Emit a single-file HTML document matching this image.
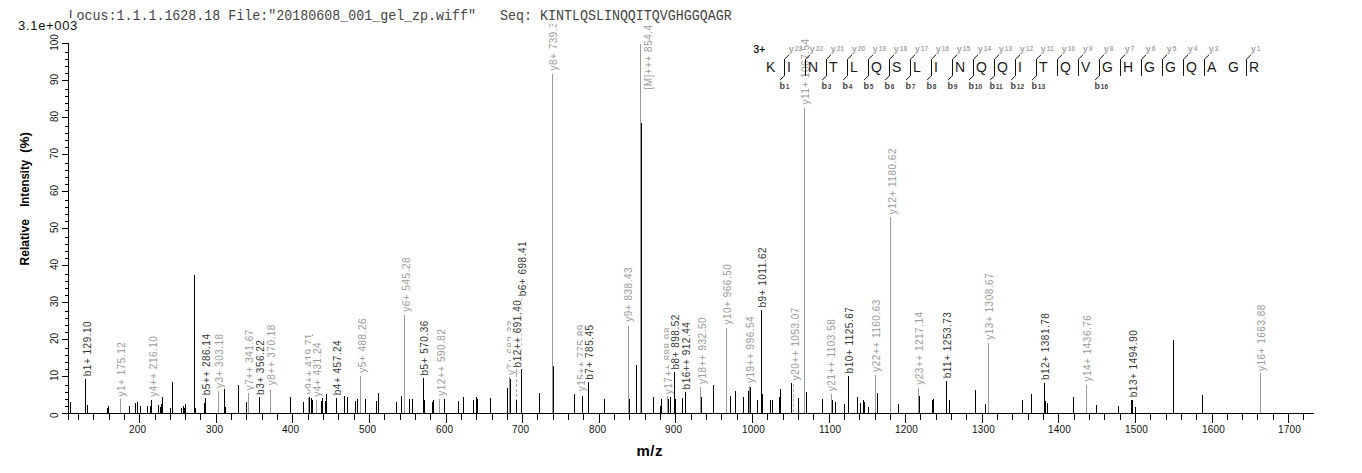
<!DOCTYPE html><html><head><meta charset="utf-8"><style>
html,body{margin:0;padding:0;background:#fff;width:1362px;height:473px;overflow:hidden}
svg{display:block;font-family:"Liberation Sans",sans-serif}
.lb{font-size:10px;letter-spacing:0.5px}
</style></head><body>
<svg width="1362" height="473" viewBox="0 0 1362 473" shape-rendering="crispEdges">
<text transform="translate(0,19.8) scale(1,1.08)" x="68.5" y="0" font-family="Liberation Mono" font-size="13.333" fill="#444" xml:space="preserve">Locus:1.1.1.1628.18 File:&quot;20180608_001_gel_zp.wiff&quot;   Seq: KINTLQSLINQQITQVGHGGQAGR</text>
<defs><clipPath id="pc"><rect x="0" y="24" width="1362" height="449"/></clipPath></defs>
<g clip-path="url(#pc)">
<rect x="70" y="402" width="1" height="11" fill="#000"/>
<rect x="85" y="379" width="1" height="34" fill="#000"/>
<rect x="87" y="405" width="1" height="8" fill="#000"/>
<rect x="107" y="408" width="1" height="5" fill="#000"/>
<rect x="108" y="406" width="1" height="7" fill="#000"/>
<rect x="120" y="399" width="1" height="14" fill="#999999"/>
<rect x="129" y="406" width="1" height="7" fill="#000"/>
<rect x="135" y="403" width="1" height="10" fill="#000"/>
<rect x="137" y="402" width="1" height="11" fill="#000"/>
<rect x="140" y="406" width="1" height="7" fill="#000"/>
<rect x="147" y="406" width="1" height="7" fill="#000"/>
<rect x="150" y="406" width="1" height="7" fill="#000"/>
<rect x="151" y="400" width="1" height="13" fill="#000"/>
<rect x="158" y="405" width="1" height="8" fill="#000"/>
<rect x="160" y="407" width="1" height="6" fill="#000"/>
<rect x="161" y="404" width="1" height="9" fill="#000"/>
<rect x="162" y="397" width="1" height="16" fill="#000"/>
<rect x="170" y="408" width="1" height="5" fill="#000"/>
<rect x="172" y="382" width="1" height="31" fill="#000"/>
<rect x="181" y="408" width="1" height="5" fill="#000"/>
<rect x="183" y="406" width="1" height="7" fill="#000"/>
<rect x="184" y="408" width="1" height="5" fill="#000"/>
<rect x="185" y="404" width="1" height="9" fill="#000"/>
<rect x="194" y="275" width="1" height="138" fill="#000"/>
<rect x="195" y="408" width="1" height="5" fill="#000"/>
<rect x="204" y="403" width="1" height="10" fill="#000"/>
<rect x="205" y="398" width="1" height="15" fill="#000"/>
<rect x="218" y="391" width="1" height="22" fill="#999999"/>
<rect x="224" y="389" width="1" height="24" fill="#000"/>
<rect x="225" y="407" width="1" height="6" fill="#000"/>
<rect x="238" y="385" width="1" height="28" fill="#000"/>
<rect x="246" y="402" width="1" height="11" fill="#000"/>
<rect x="248" y="393" width="1" height="20" fill="#999999"/>
<rect x="259" y="397" width="1" height="16" fill="#000"/>
<rect x="270" y="390" width="1" height="23" fill="#999999"/>
<rect x="290" y="397" width="1" height="16" fill="#000"/>
<rect x="303" y="402" width="1" height="11" fill="#000"/>
<rect x="308" y="398" width="1" height="15" fill="#999999"/>
<rect x="309" y="397" width="1" height="16" fill="#000"/>
<rect x="311" y="398" width="1" height="15" fill="#000"/>
<rect x="312" y="400" width="1" height="13" fill="#000"/>
<rect x="316" y="400" width="1" height="13" fill="#999999"/>
<rect x="321" y="401" width="1" height="12" fill="#000"/>
<rect x="322" y="398" width="1" height="15" fill="#000"/>
<rect x="325" y="401" width="1" height="12" fill="#000"/>
<rect x="326" y="394" width="1" height="19" fill="#000"/>
<rect x="336" y="398" width="1" height="15" fill="#000"/>
<rect x="344" y="396" width="1" height="17" fill="#000"/>
<rect x="347" y="397" width="1" height="16" fill="#000"/>
<rect x="355" y="401" width="1" height="12" fill="#000"/>
<rect x="357" y="399" width="1" height="14" fill="#000"/>
<rect x="360" y="376" width="1" height="37" fill="#999999"/>
<rect x="365" y="399" width="1" height="14" fill="#000"/>
<rect x="376" y="401" width="1" height="12" fill="#000"/>
<rect x="378" y="393" width="1" height="20" fill="#000"/>
<rect x="396" y="402" width="1" height="11" fill="#000"/>
<rect x="401" y="396" width="1" height="17" fill="#000"/>
<rect x="404" y="315" width="1" height="98" fill="#999999"/>
<rect x="409" y="399" width="1" height="14" fill="#000"/>
<rect x="412" y="399" width="1" height="14" fill="#000"/>
<rect x="423" y="378" width="1" height="35" fill="#000"/>
<rect x="424" y="400" width="1" height="13" fill="#000"/>
<rect x="432" y="402" width="1" height="11" fill="#000"/>
<rect x="433" y="400" width="1" height="13" fill="#000"/>
<rect x="439" y="399" width="1" height="14" fill="#999999"/>
<rect x="444" y="399" width="1" height="14" fill="#000"/>
<rect x="458" y="401" width="1" height="12" fill="#000"/>
<rect x="463" y="397" width="1" height="16" fill="#000"/>
<rect x="473" y="400" width="1" height="13" fill="#000"/>
<rect x="476" y="397" width="1" height="16" fill="#000"/>
<rect x="477" y="399" width="1" height="14" fill="#000"/>
<rect x="490" y="398" width="1" height="15" fill="#000"/>
<rect x="507" y="388" width="1" height="25" fill="#000"/>
<rect x="509" y="377" width="1" height="36" fill="#999999"/>
<rect x="510" y="379" width="1" height="34" fill="#000"/>
<rect x="516" y="400" width="1" height="13" fill="#000"/>
<rect x="521" y="369" width="1" height="44" fill="#000"/>
<rect x="539" y="393" width="1" height="20" fill="#000"/>
<rect x="552" y="74" width="1" height="339" fill="#999999"/>
<rect x="553" y="366" width="1" height="47" fill="#000"/>
<rect x="574" y="394" width="1" height="19" fill="#000"/>
<rect x="582" y="396" width="1" height="17" fill="#000"/>
<rect x="588" y="382" width="1" height="31" fill="#000"/>
<rect x="604" y="399" width="1" height="14" fill="#000"/>
<rect x="628" y="326" width="1" height="87" fill="#999999"/>
<rect x="629" y="399" width="1" height="14" fill="#000"/>
<rect x="636" y="365" width="1" height="48" fill="#000"/>
<rect x="640" y="44" width="1" height="369" fill="#999999"/>
<rect x="641" y="123" width="1" height="290" fill="#000"/>
<rect x="653" y="397" width="1" height="16" fill="#000"/>
<rect x="660" y="406" width="1" height="7" fill="#000"/>
<rect x="661" y="399" width="1" height="14" fill="#000"/>
<rect x="667" y="396" width="1" height="17" fill="#999999"/>
<rect x="668" y="399" width="1" height="14" fill="#000"/>
<rect x="670" y="397" width="1" height="16" fill="#000"/>
<rect x="674" y="372" width="1" height="41" fill="#000"/>
<rect x="675" y="399" width="1" height="14" fill="#000"/>
<rect x="682" y="398" width="1" height="15" fill="#000"/>
<rect x="685" y="392" width="1" height="21" fill="#000"/>
<rect x="700" y="387" width="1" height="26" fill="#999999"/>
<rect x="701" y="397" width="1" height="16" fill="#000"/>
<rect x="713" y="385" width="1" height="28" fill="#000"/>
<rect x="726" y="328" width="1" height="85" fill="#999999"/>
<rect x="730" y="396" width="1" height="17" fill="#000"/>
<rect x="735" y="391" width="1" height="22" fill="#000"/>
<rect x="743" y="397" width="1" height="16" fill="#000"/>
<rect x="748" y="391" width="1" height="22" fill="#000"/>
<rect x="749" y="386" width="1" height="27" fill="#999999"/>
<rect x="750" y="387" width="1" height="26" fill="#000"/>
<rect x="757" y="400" width="1" height="13" fill="#000"/>
<rect x="761" y="310" width="1" height="103" fill="#000"/>
<rect x="762" y="394" width="1" height="19" fill="#000"/>
<rect x="770" y="400" width="1" height="13" fill="#000"/>
<rect x="772" y="400" width="1" height="13" fill="#000"/>
<rect x="779" y="397" width="1" height="16" fill="#000"/>
<rect x="780" y="389" width="1" height="24" fill="#000"/>
<rect x="791" y="383" width="1" height="30" fill="#000"/>
<rect x="798" y="398" width="1" height="15" fill="#000"/>
<rect x="804" y="108" width="1" height="305" fill="#999999"/>
<rect x="806" y="392" width="1" height="21" fill="#000"/>
<rect x="822" y="399" width="1" height="14" fill="#000"/>
<rect x="831" y="394" width="1" height="19" fill="#999999"/>
<rect x="832" y="400" width="1" height="13" fill="#000"/>
<rect x="835" y="402" width="1" height="11" fill="#000"/>
<rect x="844" y="404" width="1" height="9" fill="#000"/>
<rect x="848" y="376" width="1" height="37" fill="#000"/>
<rect x="857" y="397" width="1" height="16" fill="#000"/>
<rect x="860" y="403" width="1" height="10" fill="#000"/>
<rect x="863" y="400" width="1" height="13" fill="#000"/>
<rect x="864" y="402" width="1" height="11" fill="#000"/>
<rect x="868" y="407" width="1" height="6" fill="#000"/>
<rect x="875" y="375" width="1" height="38" fill="#999999"/>
<rect x="877" y="393" width="1" height="20" fill="#000"/>
<rect x="890" y="217" width="1" height="196" fill="#999999"/>
<rect x="898" y="404" width="1" height="9" fill="#000"/>
<rect x="918" y="388" width="1" height="25" fill="#999999"/>
<rect x="919" y="396" width="1" height="17" fill="#000"/>
<rect x="932" y="400" width="1" height="13" fill="#000"/>
<rect x="933" y="399" width="1" height="14" fill="#000"/>
<rect x="946" y="381" width="1" height="32" fill="#000"/>
<rect x="949" y="400" width="1" height="13" fill="#000"/>
<rect x="975" y="390" width="1" height="23" fill="#000"/>
<rect x="985" y="404" width="1" height="9" fill="#000"/>
<rect x="988" y="343" width="1" height="70" fill="#999999"/>
<rect x="1022" y="400" width="1" height="13" fill="#000"/>
<rect x="1031" y="394" width="1" height="19" fill="#000"/>
<rect x="1044" y="383" width="1" height="30" fill="#000"/>
<rect x="1045" y="401" width="1" height="12" fill="#000"/>
<rect x="1047" y="403" width="1" height="10" fill="#000"/>
<rect x="1073" y="397" width="1" height="16" fill="#000"/>
<rect x="1086" y="385" width="1" height="28" fill="#999999"/>
<rect x="1096" y="405" width="1" height="8" fill="#000"/>
<rect x="1118" y="406" width="1" height="7" fill="#000"/>
<rect x="1131" y="400" width="1" height="13" fill="#000"/>
<rect x="1132" y="400" width="1" height="13" fill="#000"/>
<rect x="1135" y="407" width="1" height="6" fill="#000"/>
<rect x="1173" y="340" width="1" height="73" fill="#000"/>
<rect x="1202" y="395" width="1" height="18" fill="#000"/>
<rect x="1260" y="373" width="1" height="40" fill="#999999"/>
<g transform="translate(313.3,394.2) rotate(-90)">
<rect x="-1" y="-10" width="68.1" height="11.3" fill="#fff"/>
<text class="lb" x="0" y="0" fill="#9a9a9a" shape-rendering="auto">y9++ 419.71</text></g>
<g transform="translate(124.7,396.5) rotate(-90)">
<rect x="-1" y="-10" width="62.0" height="11.3" fill="#fff"/>
<text class="lb" x="0" y="0" fill="#9a9a9a" shape-rendering="auto">y1+ 175.12</text></g>
<g transform="translate(90.5,376.2) rotate(-90)">
<rect x="-1" y="-10" width="62.0" height="11.3" fill="#fff"/>
<text class="lb" x="0" y="0" fill="#363636" shape-rendering="auto">b1+ 129.10</text></g>
<g transform="translate(157.0,396.7) rotate(-90)">
<rect x="-1" y="-10" width="68.1" height="11.3" fill="#fff"/>
<text class="lb" x="0" y="0" fill="#9a9a9a" shape-rendering="auto">y4++ 216.10</text></g>
<g transform="translate(209.6,395.2) rotate(-90)">
<rect x="-1" y="-10" width="68.1" height="11.3" fill="#fff"/>
<text class="lb" x="0" y="0" fill="#363636" shape-rendering="auto">b5++ 286.14</text></g>
<g transform="translate(222.8,388.1) rotate(-90)">
<rect x="-1" y="-10" width="62.0" height="11.3" fill="#fff"/>
<text class="lb" x="0" y="0" fill="#9a9a9a" shape-rendering="auto">y3+ 303.18</text></g>
<g transform="translate(252.5,390.3) rotate(-90)">
<rect x="-1" y="-10" width="68.1" height="11.3" fill="#fff"/>
<text class="lb" x="0" y="0" fill="#9a9a9a" shape-rendering="auto">y7++ 341.67</text></g>
<g transform="translate(263.6,394.9) rotate(-90)">
<rect x="-1" y="-10" width="62.0" height="11.3" fill="#fff"/>
<text class="lb" x="0" y="0" fill="#363636" shape-rendering="auto">b3+ 356.22</text></g>
<g transform="translate(274.6,385.2) rotate(-90)">
<rect x="-1" y="-10" width="68.1" height="11.3" fill="#fff"/>
<text class="lb" x="0" y="0" fill="#9a9a9a" shape-rendering="auto">y8++ 370.18</text></g>
<g transform="translate(320.6,396.7) rotate(-90)">
<rect x="-1" y="-10" width="62.0" height="11.3" fill="#fff"/>
<text class="lb" x="0" y="0" fill="#9a9a9a" shape-rendering="auto">y4+ 431.24</text></g>
<g transform="translate(341.2,395.2) rotate(-90)">
<rect x="-1" y="-10" width="62.0" height="11.3" fill="#fff"/>
<text class="lb" x="0" y="0" fill="#363636" shape-rendering="auto">b4+ 457.24</text></g>
<g transform="translate(366.1,372.7) rotate(-90)">
<rect x="-1" y="-10" width="62.0" height="11.3" fill="#fff"/>
<text class="lb" x="0" y="0" fill="#9a9a9a" shape-rendering="auto">y5+ 488.26</text></g>
<g transform="translate(410.0,311.7) rotate(-90)">
<rect x="-1" y="-10" width="62.0" height="11.3" fill="#fff"/>
<text class="lb" x="0" y="0" fill="#9a9a9a" shape-rendering="auto">y6+ 545.28</text></g>
<g transform="translate(428.3,375.5) rotate(-90)">
<rect x="-1" y="-10" width="62.0" height="11.3" fill="#fff"/>
<text class="lb" x="0" y="0" fill="#363636" shape-rendering="auto">b5+ 570.36</text></g>
<g transform="translate(444.8,395.7) rotate(-90)">
<rect x="-1" y="-10" width="74.2" height="11.3" fill="#fff"/>
<text class="lb" x="0" y="0" fill="#9a9a9a" shape-rendering="auto">y12++ 590.82</text></g>
<g transform="translate(515.1,375.0) rotate(-90)">
<rect x="-1" y="-10" width="62.0" height="11.3" fill="#fff"/>
<text class="lb" x="0" y="0" fill="#9a9a9a" shape-rendering="auto">y7+ 682.33</text></g>
<g transform="translate(521.2,367.4) rotate(-90)">
<rect x="-1" y="-10" width="74.2" height="11.3" fill="#fff"/>
<text class="lb" x="0" y="0" fill="#363636" shape-rendering="auto">b12++ 691.40</text></g>
<g transform="translate(526.4,296.3) rotate(-90)">
<rect x="-1" y="-10" width="62.0" height="11.3" fill="#fff"/>
<text class="lb" x="0" y="0" fill="#363636" shape-rendering="auto">b6+ 698.41</text></g>
<g transform="translate(556.9,70.5) rotate(-90)">
<rect x="-1" y="-10" width="62.0" height="11.3" fill="#fff"/>
<text class="lb" x="0" y="0" fill="#9a9a9a" shape-rendering="auto">y8+ 739.36</text></g>
<g transform="translate(585.1,391.3) rotate(-90)">
<rect x="-1" y="-10" width="74.2" height="11.3" fill="#fff"/>
<text class="lb" x="0" y="0" fill="#9a9a9a" shape-rendering="auto">y15++ 775.89</text></g>
<g transform="translate(593.2,379.7) rotate(-90)">
<rect x="-1" y="-10" width="62.0" height="11.3" fill="#fff"/>
<text class="lb" x="0" y="0" fill="#363636" shape-rendering="auto">b7+ 785.45</text></g>
<g transform="translate(632.0,321.7) rotate(-90)">
<rect x="-1" y="-10" width="62.0" height="11.3" fill="#fff"/>
<text class="lb" x="0" y="0" fill="#9a9a9a" shape-rendering="auto">y9+ 838.43</text></g>
<g transform="translate(652.2,89.6) rotate(-90)">
<rect x="-1" y="-10" width="74.2" height="11.3" fill="#fff"/>
<text class="lb" x="0" y="0" fill="#9a9a9a" shape-rendering="auto">&#91;M]+++ 854.4</text></g>
<g transform="translate(671.5,394.2) rotate(-90)">
<rect x="-1" y="-10" width="74.2" height="11.3" fill="#fff"/>
<text class="lb" x="0" y="0" fill="#9a9a9a" shape-rendering="auto">y17++ 888.98</text></g>
<g transform="translate(679.0,369.5) rotate(-90)">
<rect x="-1" y="-10" width="62.0" height="11.3" fill="#fff"/>
<text class="lb" x="0" y="0" fill="#363636" shape-rendering="auto">b8+ 898.52</text></g>
<g transform="translate(689.7,389.4) rotate(-90)">
<rect x="-1" y="-10" width="74.2" height="11.3" fill="#fff"/>
<text class="lb" x="0" y="0" fill="#363636" shape-rendering="auto">b16++ 912.44</text></g>
<g transform="translate(705.6,384.1) rotate(-90)">
<rect x="-1" y="-10" width="74.2" height="11.3" fill="#fff"/>
<text class="lb" x="0" y="0" fill="#9a9a9a" shape-rendering="auto">y18++ 932.50</text></g>
<g transform="translate(730.6,324.5) rotate(-90)">
<rect x="-1" y="-10" width="68.1" height="11.3" fill="#fff"/>
<text class="lb" x="0" y="0" fill="#9a9a9a" shape-rendering="auto">y10+ 966.50</text></g>
<g transform="translate(753.9,383.0) rotate(-90)">
<rect x="-1" y="-10" width="74.2" height="11.3" fill="#fff"/>
<text class="lb" x="0" y="0" fill="#9a9a9a" shape-rendering="auto">y19++ 996.54</text></g>
<g transform="translate(765.6,307.5) rotate(-90)">
<rect x="-1" y="-10" width="68.1" height="11.3" fill="#fff"/>
<text class="lb" x="0" y="0" fill="#363636" shape-rendering="auto">b9+ 1011.62</text></g>
<g transform="translate(799.0,380.3) rotate(-90)">
<rect x="-1" y="-10" width="80.3" height="11.3" fill="#fff"/>
<text class="lb" x="0" y="0" fill="#9a9a9a" shape-rendering="auto">y20++ 1053.07</text></g>
<g transform="translate(809.0,104.5) rotate(-90)">
<rect x="-1" y="-10" width="74.2" height="11.3" fill="#fff"/>
<text class="lb" x="0" y="0" fill="#9a9a9a" shape-rendering="auto">y11+ 1067.54</text></g>
<g transform="translate(835.4,391.2) rotate(-90)">
<rect x="-1" y="-10" width="80.3" height="11.3" fill="#fff"/>
<text class="lb" x="0" y="0" fill="#9a9a9a" shape-rendering="auto">y21++ 1103.58</text></g>
<g transform="translate(852.9,373.4) rotate(-90)">
<rect x="-1" y="-10" width="74.2" height="11.3" fill="#fff"/>
<text class="lb" x="0" y="0" fill="#363636" shape-rendering="auto">b10+ 1125.67</text></g>
<g transform="translate(880.4,371.7) rotate(-90)">
<rect x="-1" y="-10" width="80.3" height="11.3" fill="#fff"/>
<text class="lb" x="0" y="0" fill="#9a9a9a" shape-rendering="auto">y22++ 1160.63</text></g>
<g transform="translate(896.0,214.2) rotate(-90)">
<rect x="-1" y="-10" width="74.2" height="11.3" fill="#fff"/>
<text class="lb" x="0" y="0" fill="#9a9a9a" shape-rendering="auto">y12+ 1180.62</text></g>
<g transform="translate(922.9,384.7) rotate(-90)">
<rect x="-1" y="-10" width="80.3" height="11.3" fill="#fff"/>
<text class="lb" x="0" y="0" fill="#9a9a9a" shape-rendering="auto">y23++ 1217.14</text></g>
<g transform="translate(951.3,378.3) rotate(-90)">
<rect x="-1" y="-10" width="74.2" height="11.3" fill="#fff"/>
<text class="lb" x="0" y="0" fill="#363636" shape-rendering="auto">b11+ 1253.73</text></g>
<g transform="translate(993.4,339.7) rotate(-90)">
<rect x="-1" y="-10" width="74.2" height="11.3" fill="#fff"/>
<text class="lb" x="0" y="0" fill="#9a9a9a" shape-rendering="auto">y13+ 1308.67</text></g>
<g transform="translate(1048.7,380.1) rotate(-90)">
<rect x="-1" y="-10" width="74.2" height="11.3" fill="#fff"/>
<text class="lb" x="0" y="0" fill="#363636" shape-rendering="auto">b12+ 1381.78</text></g>
<g transform="translate(1091.3,381.5) rotate(-90)">
<rect x="-1" y="-10" width="74.2" height="11.3" fill="#fff"/>
<text class="lb" x="0" y="0" fill="#9a9a9a" shape-rendering="auto">y14+ 1436.76</text></g>
<g transform="translate(1136.6,397.2) rotate(-90)">
<rect x="-1" y="-10" width="74.2" height="11.3" fill="#fff"/>
<text class="lb" x="0" y="0" fill="#363636" shape-rendering="auto">b13+ 1494.90</text></g>
<g transform="translate(1265.0,371.0) rotate(-90)">
<rect x="-1" y="-10" width="74.2" height="11.3" fill="#fff"/>
<text class="lb" x="0" y="0" fill="#9a9a9a" shape-rendering="auto">y16+ 1663.88</text></g>
<line x1="516.5" y1="369" x2="516.5" y2="400" stroke="#aaaaaa" stroke-width="1" stroke-dasharray="3,2"/>
<line x1="793.5" y1="384" x2="793.5" y2="413" stroke="#b4b4b4" stroke-width="1" stroke-dasharray="3,2"/>
<line x1="521.5" y1="298" x2="521.5" y2="368" stroke="#cfcfcf" stroke-width="1" stroke-dasharray="3,2"/>
</g>
<rect x="62" y="413" width="1252" height="1" fill="#000"/>
<rect x="68" y="43" width="1" height="377" fill="#000"/>
<rect x="62" y="413" width="6" height="1" fill="#000"/>
<rect x="65" y="406" width="3" height="1" fill="#000"/>
<rect x="65" y="399" width="3" height="1" fill="#000"/>
<rect x="65" y="392" width="3" height="1" fill="#000"/>
<rect x="65" y="385" width="3" height="1" fill="#000"/>
<g transform="translate(58.1,415.3) rotate(-90)"><text x="0" y="0" font-size="10" text-anchor="middle" fill="#111">0</text></g>
<rect x="62" y="376" width="6" height="1" fill="#000"/>
<rect x="65" y="369" width="3" height="1" fill="#000"/>
<rect x="65" y="362" width="3" height="1" fill="#000"/>
<rect x="65" y="355" width="3" height="1" fill="#000"/>
<rect x="65" y="348" width="3" height="1" fill="#000"/>
<g transform="translate(58.1,375.5) rotate(-90)"><text x="0" y="0" font-size="10" text-anchor="middle" fill="#111">10</text></g>
<rect x="62" y="339" width="6" height="1" fill="#000"/>
<rect x="65" y="332" width="3" height="1" fill="#000"/>
<rect x="65" y="325" width="3" height="1" fill="#000"/>
<rect x="65" y="318" width="3" height="1" fill="#000"/>
<rect x="65" y="311" width="3" height="1" fill="#000"/>
<g transform="translate(58.1,338.5) rotate(-90)"><text x="0" y="0" font-size="10" text-anchor="middle" fill="#111">20</text></g>
<rect x="62" y="302" width="6" height="1" fill="#000"/>
<rect x="65" y="295" width="3" height="1" fill="#000"/>
<rect x="65" y="288" width="3" height="1" fill="#000"/>
<rect x="65" y="281" width="3" height="1" fill="#000"/>
<rect x="65" y="274" width="3" height="1" fill="#000"/>
<g transform="translate(58.1,301.5) rotate(-90)"><text x="0" y="0" font-size="10" text-anchor="middle" fill="#111">30</text></g>
<rect x="62" y="265" width="6" height="1" fill="#000"/>
<rect x="65" y="258" width="3" height="1" fill="#000"/>
<rect x="65" y="251" width="3" height="1" fill="#000"/>
<rect x="65" y="244" width="3" height="1" fill="#000"/>
<rect x="65" y="237" width="3" height="1" fill="#000"/>
<g transform="translate(58.1,264.5) rotate(-90)"><text x="0" y="0" font-size="10" text-anchor="middle" fill="#111">40</text></g>
<rect x="62" y="228" width="6" height="1" fill="#000"/>
<rect x="65" y="221" width="3" height="1" fill="#000"/>
<rect x="65" y="214" width="3" height="1" fill="#000"/>
<rect x="65" y="207" width="3" height="1" fill="#000"/>
<rect x="65" y="200" width="3" height="1" fill="#000"/>
<g transform="translate(58.1,227.5) rotate(-90)"><text x="0" y="0" font-size="10" text-anchor="middle" fill="#111">50</text></g>
<rect x="62" y="191" width="6" height="1" fill="#000"/>
<rect x="65" y="184" width="3" height="1" fill="#000"/>
<rect x="65" y="177" width="3" height="1" fill="#000"/>
<rect x="65" y="170" width="3" height="1" fill="#000"/>
<rect x="65" y="163" width="3" height="1" fill="#000"/>
<g transform="translate(58.1,190.5) rotate(-90)"><text x="0" y="0" font-size="10" text-anchor="middle" fill="#111">60</text></g>
<rect x="62" y="154" width="6" height="1" fill="#000"/>
<rect x="65" y="147" width="3" height="1" fill="#000"/>
<rect x="65" y="140" width="3" height="1" fill="#000"/>
<rect x="65" y="133" width="3" height="1" fill="#000"/>
<rect x="65" y="126" width="3" height="1" fill="#000"/>
<g transform="translate(58.1,153.5) rotate(-90)"><text x="0" y="0" font-size="10" text-anchor="middle" fill="#111">70</text></g>
<rect x="62" y="117" width="6" height="1" fill="#000"/>
<rect x="65" y="110" width="3" height="1" fill="#000"/>
<rect x="65" y="103" width="3" height="1" fill="#000"/>
<rect x="65" y="96" width="3" height="1" fill="#000"/>
<rect x="65" y="89" width="3" height="1" fill="#000"/>
<g transform="translate(58.1,116.5) rotate(-90)"><text x="0" y="0" font-size="10" text-anchor="middle" fill="#111">80</text></g>
<rect x="62" y="80" width="6" height="1" fill="#000"/>
<rect x="65" y="73" width="3" height="1" fill="#000"/>
<rect x="65" y="66" width="3" height="1" fill="#000"/>
<rect x="65" y="59" width="3" height="1" fill="#000"/>
<rect x="65" y="52" width="3" height="1" fill="#000"/>
<g transform="translate(58.1,79.5) rotate(-90)"><text x="0" y="0" font-size="10" text-anchor="middle" fill="#111">90</text></g>
<rect x="62" y="43" width="6" height="1" fill="#000"/>
<g transform="translate(58.1,42.5) rotate(-90)"><text x="0" y="0" font-size="10" text-anchor="middle" fill="#111">100</text></g>
<rect x="78" y="414" width="1" height="6" fill="#000"/>
<rect x="93" y="414" width="1" height="6" fill="#000"/>
<rect x="109" y="414" width="1" height="6" fill="#000"/>
<rect x="124" y="414" width="1" height="6" fill="#000"/>
<rect x="139" y="414" width="1" height="9" fill="#000"/>
<text x="129.0" y="433" font-size="10" fill="#111" letter-spacing="0.15">200</text>
<rect x="155" y="414" width="1" height="6" fill="#000"/>
<rect x="170" y="414" width="1" height="6" fill="#000"/>
<rect x="185" y="414" width="1" height="6" fill="#000"/>
<rect x="200" y="414" width="1" height="6" fill="#000"/>
<rect x="216" y="414" width="1" height="9" fill="#000"/>
<text x="206.0" y="433" font-size="10" fill="#111" letter-spacing="0.15">300</text>
<rect x="231" y="414" width="1" height="6" fill="#000"/>
<rect x="246" y="414" width="1" height="6" fill="#000"/>
<rect x="262" y="414" width="1" height="6" fill="#000"/>
<rect x="277" y="414" width="1" height="6" fill="#000"/>
<rect x="292" y="414" width="1" height="9" fill="#000"/>
<text x="282.0" y="433" font-size="10" fill="#111" letter-spacing="0.15">400</text>
<rect x="308" y="414" width="1" height="6" fill="#000"/>
<rect x="323" y="414" width="1" height="6" fill="#000"/>
<rect x="338" y="414" width="1" height="6" fill="#000"/>
<rect x="354" y="414" width="1" height="6" fill="#000"/>
<rect x="369" y="414" width="1" height="9" fill="#000"/>
<text x="359.0" y="433" font-size="10" fill="#111" letter-spacing="0.15">500</text>
<rect x="384" y="414" width="1" height="6" fill="#000"/>
<rect x="400" y="414" width="1" height="6" fill="#000"/>
<rect x="415" y="414" width="1" height="6" fill="#000"/>
<rect x="430" y="414" width="1" height="6" fill="#000"/>
<rect x="446" y="414" width="1" height="9" fill="#000"/>
<text x="436.0" y="433" font-size="10" fill="#111" letter-spacing="0.15">600</text>
<rect x="461" y="414" width="1" height="6" fill="#000"/>
<rect x="476" y="414" width="1" height="6" fill="#000"/>
<rect x="492" y="414" width="1" height="6" fill="#000"/>
<rect x="507" y="414" width="1" height="6" fill="#000"/>
<rect x="522" y="414" width="1" height="9" fill="#000"/>
<text x="512.0" y="433" font-size="10" fill="#111" letter-spacing="0.15">700</text>
<rect x="537" y="414" width="1" height="6" fill="#000"/>
<rect x="553" y="414" width="1" height="6" fill="#000"/>
<rect x="568" y="414" width="1" height="6" fill="#000"/>
<rect x="583" y="414" width="1" height="6" fill="#000"/>
<rect x="599" y="414" width="1" height="9" fill="#000"/>
<text x="589.0" y="433" font-size="10" fill="#111" letter-spacing="0.15">800</text>
<rect x="614" y="414" width="1" height="6" fill="#000"/>
<rect x="629" y="414" width="1" height="6" fill="#000"/>
<rect x="645" y="414" width="1" height="6" fill="#000"/>
<rect x="660" y="414" width="1" height="6" fill="#000"/>
<rect x="675" y="414" width="1" height="9" fill="#000"/>
<text x="665.0" y="433" font-size="10" fill="#111" letter-spacing="0.15">900</text>
<rect x="691" y="414" width="1" height="6" fill="#000"/>
<rect x="706" y="414" width="1" height="6" fill="#000"/>
<rect x="721" y="414" width="1" height="6" fill="#000"/>
<rect x="737" y="414" width="1" height="6" fill="#000"/>
<rect x="752" y="414" width="1" height="9" fill="#000"/>
<text x="742.0" y="433" font-size="10" fill="#111" letter-spacing="0.15">1000</text>
<rect x="767" y="414" width="1" height="6" fill="#000"/>
<rect x="783" y="414" width="1" height="6" fill="#000"/>
<rect x="798" y="414" width="1" height="6" fill="#000"/>
<rect x="813" y="414" width="1" height="6" fill="#000"/>
<rect x="829" y="414" width="1" height="9" fill="#000"/>
<text x="819.0" y="433" font-size="10" fill="#111" letter-spacing="0.15">1100</text>
<rect x="844" y="414" width="1" height="6" fill="#000"/>
<rect x="859" y="414" width="1" height="6" fill="#000"/>
<rect x="875" y="414" width="1" height="6" fill="#000"/>
<rect x="890" y="414" width="1" height="6" fill="#000"/>
<rect x="905" y="414" width="1" height="9" fill="#000"/>
<text x="895.0" y="433" font-size="10" fill="#111" letter-spacing="0.15">1200</text>
<rect x="920" y="414" width="1" height="6" fill="#000"/>
<rect x="936" y="414" width="1" height="6" fill="#000"/>
<rect x="951" y="414" width="1" height="6" fill="#000"/>
<rect x="966" y="414" width="1" height="6" fill="#000"/>
<rect x="982" y="414" width="1" height="9" fill="#000"/>
<text x="972.0" y="433" font-size="10" fill="#111" letter-spacing="0.15">1300</text>
<rect x="997" y="414" width="1" height="6" fill="#000"/>
<rect x="1012" y="414" width="1" height="6" fill="#000"/>
<rect x="1028" y="414" width="1" height="6" fill="#000"/>
<rect x="1043" y="414" width="1" height="6" fill="#000"/>
<rect x="1058" y="414" width="1" height="9" fill="#000"/>
<text x="1048.0" y="433" font-size="10" fill="#111" letter-spacing="0.15">1400</text>
<rect x="1074" y="414" width="1" height="6" fill="#000"/>
<rect x="1089" y="414" width="1" height="6" fill="#000"/>
<rect x="1104" y="414" width="1" height="6" fill="#000"/>
<rect x="1120" y="414" width="1" height="6" fill="#000"/>
<rect x="1135" y="414" width="1" height="9" fill="#000"/>
<text x="1125.0" y="433" font-size="10" fill="#111" letter-spacing="0.15">1500</text>
<rect x="1150" y="414" width="1" height="6" fill="#000"/>
<rect x="1166" y="414" width="1" height="6" fill="#000"/>
<rect x="1181" y="414" width="1" height="6" fill="#000"/>
<rect x="1196" y="414" width="1" height="6" fill="#000"/>
<rect x="1212" y="414" width="1" height="9" fill="#000"/>
<text x="1202.0" y="433" font-size="10" fill="#111" letter-spacing="0.15">1600</text>
<rect x="1227" y="414" width="1" height="6" fill="#000"/>
<rect x="1242" y="414" width="1" height="6" fill="#000"/>
<rect x="1257" y="414" width="1" height="6" fill="#000"/>
<rect x="1273" y="414" width="1" height="6" fill="#000"/>
<rect x="1288" y="414" width="1" height="9" fill="#000"/>
<text x="1278.0" y="433" font-size="10" fill="#111" letter-spacing="0.15">1700</text>
<rect x="1303" y="414" width="1" height="6" fill="#000"/>
<g transform="translate(28.7,0) rotate(-90)" font-size="12.5" font-weight="bold" fill="#000"><text x="-265.5" y="0" textLength="46.4" lengthAdjust="spacingAndGlyphs">Relative</text><text x="-206.8" y="0" textLength="46.9" lengthAdjust="spacingAndGlyphs">Intensity</text><text x="-153.0" y="0" textLength="21" lengthAdjust="spacingAndGlyphs">(%)</text></g>
<text x="636.4" y="455.6" font-size="15" font-weight="bold" fill="#000" letter-spacing="0.6">m/z</text>
<rect x="14" y="17.5" width="65" height="14" fill="#fff"/>
<text x="18.1" y="29.9" font-size="13" fill="#111" textLength="59.2">3.1e+003</text>
<text x="753.4" y="53.3" font-size="10" fill="#000" letter-spacing="0.4" stroke="#000" stroke-width="0.25">3+</text>
<text x="766.0" y="71.9" font-size="14" fill="#1a1a1a">K</text>
<text x="787.0" y="71.9" font-size="14" fill="#1a1a1a">I</text>
<text x="808.0" y="71.9" font-size="14" fill="#1a1a1a">N</text>
<text x="829.0" y="71.9" font-size="14" fill="#1a1a1a">T</text>
<text x="850.0" y="71.9" font-size="14" fill="#1a1a1a">L</text>
<text x="871.0" y="71.9" font-size="14" fill="#1a1a1a">Q</text>
<text x="892.0" y="71.9" font-size="14" fill="#1a1a1a">S</text>
<text x="913.0" y="71.9" font-size="14" fill="#1a1a1a">L</text>
<text x="934.0" y="71.9" font-size="14" fill="#1a1a1a">I</text>
<text x="955.0" y="71.9" font-size="14" fill="#1a1a1a">N</text>
<text x="976.0" y="71.9" font-size="14" fill="#1a1a1a">Q</text>
<text x="997.0" y="71.9" font-size="14" fill="#1a1a1a">Q</text>
<text x="1018.0" y="71.9" font-size="14" fill="#1a1a1a">I</text>
<text x="1039.0" y="71.9" font-size="14" fill="#1a1a1a">T</text>
<text x="1060.0" y="71.9" font-size="14" fill="#1a1a1a">Q</text>
<text x="1081.0" y="71.9" font-size="14" fill="#1a1a1a">V</text>
<text x="1102.0" y="71.9" font-size="14" fill="#1a1a1a">G</text>
<text x="1123.0" y="71.9" font-size="14" fill="#1a1a1a">H</text>
<text x="1144.0" y="71.9" font-size="14" fill="#1a1a1a">G</text>
<text x="1165.0" y="71.9" font-size="14" fill="#1a1a1a">G</text>
<text x="1186.0" y="71.9" font-size="14" fill="#1a1a1a">Q</text>
<text x="1207.0" y="71.9" font-size="14" fill="#1a1a1a">A</text>
<text x="1228.0" y="71.9" font-size="14" fill="#1a1a1a">G</text>
<text x="1249.0" y="71.9" font-size="14" fill="#1a1a1a">R</text>
<path d="M789.0,54.8 L784.5,59.2 L784.5,75.8 L780.1,80.0" fill="none" stroke="#111" stroke-width="1" shape-rendering="auto"/>
<text x="788.8" y="52.2" font-weight="bold" fill="#a6a6a6"><tspan font-size="9">y</tspan><tspan font-size="6.5" dx="1" dy="-1.1">23</tspan></text>
<text x="779.5" y="89.0" font-weight="bold" fill="#444"><tspan font-size="9">b</tspan><tspan font-size="6.5" dx="0.8" dy="-0.4">1</tspan></text>
<path d="M810.0,54.8 L805.5,59.2 L805.5,75.8" fill="none" stroke="#111" stroke-width="1" shape-rendering="auto"/>
<text x="809.8" y="52.2" font-weight="bold" fill="#a6a6a6"><tspan font-size="9">y</tspan><tspan font-size="6.5" dx="1" dy="-1.1">22</tspan></text>
<path d="M831.0,54.8 L826.5,59.2 L826.5,75.8 L822.1,80.0" fill="none" stroke="#111" stroke-width="1" shape-rendering="auto"/>
<text x="830.8" y="52.2" font-weight="bold" fill="#a6a6a6"><tspan font-size="9">y</tspan><tspan font-size="6.5" dx="1" dy="-1.1">21</tspan></text>
<text x="821.5" y="89.0" font-weight="bold" fill="#444"><tspan font-size="9">b</tspan><tspan font-size="6.5" dx="0.8" dy="-0.4">3</tspan></text>
<path d="M852.0,54.8 L847.5,59.2 L847.5,75.8 L843.1,80.0" fill="none" stroke="#111" stroke-width="1" shape-rendering="auto"/>
<text x="851.8" y="52.2" font-weight="bold" fill="#a6a6a6"><tspan font-size="9">y</tspan><tspan font-size="6.5" dx="1" dy="-1.1">20</tspan></text>
<text x="842.5" y="89.0" font-weight="bold" fill="#444"><tspan font-size="9">b</tspan><tspan font-size="6.5" dx="0.8" dy="-0.4">4</tspan></text>
<path d="M873.0,54.8 L868.5,59.2 L868.5,75.8 L864.1,80.0" fill="none" stroke="#111" stroke-width="1" shape-rendering="auto"/>
<text x="872.8" y="52.2" font-weight="bold" fill="#a6a6a6"><tspan font-size="9">y</tspan><tspan font-size="6.5" dx="1" dy="-1.1">19</tspan></text>
<text x="863.5" y="89.0" font-weight="bold" fill="#444"><tspan font-size="9">b</tspan><tspan font-size="6.5" dx="0.8" dy="-0.4">5</tspan></text>
<path d="M894.0,54.8 L889.5,59.2 L889.5,75.8 L885.1,80.0" fill="none" stroke="#111" stroke-width="1" shape-rendering="auto"/>
<text x="893.8" y="52.2" font-weight="bold" fill="#a6a6a6"><tspan font-size="9">y</tspan><tspan font-size="6.5" dx="1" dy="-1.1">18</tspan></text>
<text x="884.5" y="89.0" font-weight="bold" fill="#444"><tspan font-size="9">b</tspan><tspan font-size="6.5" dx="0.8" dy="-0.4">6</tspan></text>
<path d="M915.0,54.8 L910.5,59.2 L910.5,75.8 L906.1,80.0" fill="none" stroke="#111" stroke-width="1" shape-rendering="auto"/>
<text x="914.8" y="52.2" font-weight="bold" fill="#a6a6a6"><tspan font-size="9">y</tspan><tspan font-size="6.5" dx="1" dy="-1.1">17</tspan></text>
<text x="905.5" y="89.0" font-weight="bold" fill="#444"><tspan font-size="9">b</tspan><tspan font-size="6.5" dx="0.8" dy="-0.4">7</tspan></text>
<path d="M936.0,54.8 L931.5,59.2 L931.5,75.8 L927.1,80.0" fill="none" stroke="#111" stroke-width="1" shape-rendering="auto"/>
<text x="935.8" y="52.2" font-weight="bold" fill="#a6a6a6"><tspan font-size="9">y</tspan><tspan font-size="6.5" dx="1" dy="-1.1">16</tspan></text>
<text x="926.5" y="89.0" font-weight="bold" fill="#444"><tspan font-size="9">b</tspan><tspan font-size="6.5" dx="0.8" dy="-0.4">8</tspan></text>
<path d="M957.0,54.8 L952.5,59.2 L952.5,75.8 L948.1,80.0" fill="none" stroke="#111" stroke-width="1" shape-rendering="auto"/>
<text x="956.8" y="52.2" font-weight="bold" fill="#a6a6a6"><tspan font-size="9">y</tspan><tspan font-size="6.5" dx="1" dy="-1.1">15</tspan></text>
<text x="947.5" y="89.0" font-weight="bold" fill="#444"><tspan font-size="9">b</tspan><tspan font-size="6.5" dx="0.8" dy="-0.4">9</tspan></text>
<path d="M978.0,54.8 L973.5,59.2 L973.5,75.8 L969.1,80.0" fill="none" stroke="#111" stroke-width="1" shape-rendering="auto"/>
<text x="977.8" y="52.2" font-weight="bold" fill="#a6a6a6"><tspan font-size="9">y</tspan><tspan font-size="6.5" dx="1" dy="-1.1">14</tspan></text>
<text x="968.5" y="89.0" font-weight="bold" fill="#444"><tspan font-size="9">b</tspan><tspan font-size="6.5" dx="0.8" dy="-0.4">10</tspan></text>
<path d="M999.0,54.8 L994.5,59.2 L994.5,75.8 L990.1,80.0" fill="none" stroke="#111" stroke-width="1" shape-rendering="auto"/>
<text x="998.8" y="52.2" font-weight="bold" fill="#a6a6a6"><tspan font-size="9">y</tspan><tspan font-size="6.5" dx="1" dy="-1.1">13</tspan></text>
<text x="989.5" y="89.0" font-weight="bold" fill="#444"><tspan font-size="9">b</tspan><tspan font-size="6.5" dx="0.8" dy="-0.4">11</tspan></text>
<path d="M1020.0,54.8 L1015.5,59.2 L1015.5,75.8 L1011.1,80.0" fill="none" stroke="#111" stroke-width="1" shape-rendering="auto"/>
<text x="1019.8" y="52.2" font-weight="bold" fill="#a6a6a6"><tspan font-size="9">y</tspan><tspan font-size="6.5" dx="1" dy="-1.1">12</tspan></text>
<text x="1010.5" y="89.0" font-weight="bold" fill="#444"><tspan font-size="9">b</tspan><tspan font-size="6.5" dx="0.8" dy="-0.4">12</tspan></text>
<path d="M1041.0,54.8 L1036.5,59.2 L1036.5,75.8 L1032.1,80.0" fill="none" stroke="#111" stroke-width="1" shape-rendering="auto"/>
<text x="1040.8" y="52.2" font-weight="bold" fill="#a6a6a6"><tspan font-size="9">y</tspan><tspan font-size="6.5" dx="1" dy="-1.1">11</tspan></text>
<text x="1031.5" y="89.0" font-weight="bold" fill="#444"><tspan font-size="9">b</tspan><tspan font-size="6.5" dx="0.8" dy="-0.4">13</tspan></text>
<path d="M1062.0,54.8 L1057.5,59.2 L1057.5,75.8" fill="none" stroke="#111" stroke-width="1" shape-rendering="auto"/>
<text x="1061.8" y="52.2" font-weight="bold" fill="#a6a6a6"><tspan font-size="9">y</tspan><tspan font-size="6.5" dx="1" dy="-1.1">10</tspan></text>
<path d="M1083.0,54.8 L1078.5,59.2 L1078.5,75.8" fill="none" stroke="#111" stroke-width="1" shape-rendering="auto"/>
<text x="1082.8" y="52.2" font-weight="bold" fill="#a6a6a6"><tspan font-size="9">y</tspan><tspan font-size="6.5" dx="1" dy="-1.1">9</tspan></text>
<path d="M1104.0,54.8 L1099.5,59.2 L1099.5,75.8 L1095.1,80.0" fill="none" stroke="#111" stroke-width="1" shape-rendering="auto"/>
<text x="1103.8" y="52.2" font-weight="bold" fill="#a6a6a6"><tspan font-size="9">y</tspan><tspan font-size="6.5" dx="1" dy="-1.1">8</tspan></text>
<text x="1094.5" y="89.0" font-weight="bold" fill="#444"><tspan font-size="9">b</tspan><tspan font-size="6.5" dx="0.8" dy="-0.4">16</tspan></text>
<path d="M1125.0,54.8 L1120.5,59.2 L1120.5,75.8" fill="none" stroke="#111" stroke-width="1" shape-rendering="auto"/>
<text x="1124.8" y="52.2" font-weight="bold" fill="#a6a6a6"><tspan font-size="9">y</tspan><tspan font-size="6.5" dx="1" dy="-1.1">7</tspan></text>
<path d="M1146.0,54.8 L1141.5,59.2 L1141.5,75.8" fill="none" stroke="#111" stroke-width="1" shape-rendering="auto"/>
<text x="1145.8" y="52.2" font-weight="bold" fill="#a6a6a6"><tspan font-size="9">y</tspan><tspan font-size="6.5" dx="1" dy="-1.1">6</tspan></text>
<path d="M1167.0,54.8 L1162.5,59.2 L1162.5,75.8" fill="none" stroke="#111" stroke-width="1" shape-rendering="auto"/>
<text x="1166.8" y="52.2" font-weight="bold" fill="#a6a6a6"><tspan font-size="9">y</tspan><tspan font-size="6.5" dx="1" dy="-1.1">5</tspan></text>
<path d="M1188.0,54.8 L1183.5,59.2 L1183.5,75.8" fill="none" stroke="#111" stroke-width="1" shape-rendering="auto"/>
<text x="1187.8" y="52.2" font-weight="bold" fill="#a6a6a6"><tspan font-size="9">y</tspan><tspan font-size="6.5" dx="1" dy="-1.1">4</tspan></text>
<path d="M1209.0,54.8 L1204.5,59.2 L1204.5,75.8" fill="none" stroke="#111" stroke-width="1" shape-rendering="auto"/>
<text x="1208.8" y="52.2" font-weight="bold" fill="#a6a6a6"><tspan font-size="9">y</tspan><tspan font-size="6.5" dx="1" dy="-1.1">3</tspan></text>
<path d="M1251.0,54.8 L1246.5,59.2 L1246.5,75.8" fill="none" stroke="#111" stroke-width="1" shape-rendering="auto"/>
<text x="1250.8" y="52.2" font-weight="bold" fill="#a6a6a6"><tspan font-size="9">y</tspan><tspan font-size="6.5" dx="1" dy="-1.1">1</tspan></text>
</svg></body></html>
